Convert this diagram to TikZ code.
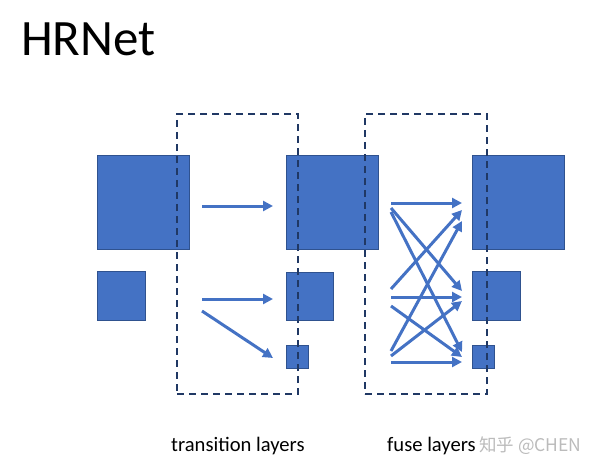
\documentclass[tikz,border=0pt]{standalone}
\usepackage{fontspec}
\setmainfont{Carlito}
\newfontfamily\cjkfont{Noto Sans CJK SC}
\usetikzlibrary{arrows.meta}
\definecolor{officeblue}{HTML}{4472C4}
\definecolor{boxedge}{HTML}{2F528F}
\definecolor{dashcol}{HTML}{203864}
\definecolor{wmark}{HTML}{BBBBBB}
\begin{document}
\begin{tikzpicture}[x=1pt,y=-1pt,
  fmap/.style={draw=boxedge, line width=0.8pt, fill=officeblue, inner sep=0pt, outer sep=0pt, anchor=north west},
  dashbox/.style={draw=dashcol, line width=1.6pt, dash pattern=on 7pt off 5pt, inner sep=0pt, outer sep=0pt, anchor=north west},
  conn/.style={draw=officeblue, line width=3pt, -{Triangle[length=10pt,width=10pt]}},
  lbl/.style={font=\fontsize{20.6}{22}\selectfont, inner sep=0pt, anchor=base west}]
\useasboundingbox (0,0) rectangle (600,468);
\node[font=\fontsize{51}{55}\selectfont, inner sep=0pt, anchor=base west] (title) at (21,56) {HRNet};
% feature maps
\node[fmap, minimum width=92pt, minimum height=94pt] (lb) at (97,155) {};
\node[fmap, minimum width=48pt, minimum height=49pt] (lm) at (97,271) {};
\node[fmap, minimum width=92pt, minimum height=94pt] (mb) at (286,155) {};
\node[fmap, minimum width=47pt, minimum height=48pt] (mm) at (286,272) {};
\node[fmap, minimum width=22pt, minimum height=23pt] (mt) at (286,345) {};
\node[fmap, minimum width=92pt, minimum height=94pt] (rb) at (472,155) {};
\node[fmap, minimum width=48pt, minimum height=49pt] (rm) at (472,271) {};
\node[fmap, minimum width=22pt, minimum height=23pt] (rt) at (472,345) {};
% dashed boxes
\node[dashbox, minimum width=121pt, minimum height=280pt] (trans) at (177,114) {};
\node[dashbox, minimum width=122pt, minimum height=280pt] (fuse) at (365,114) {};
% transition arrows
\coordinate (t1s) at (202,206); \coordinate (t1e) at (273,206);
\coordinate (t2s) at (202,299); \coordinate (t2e) at (273,299);
\coordinate (t3s) at (202,311); \coordinate (t3e) at (273,358);
\draw[conn] (t1s) -- (t1e);
\draw[conn] (t2s) -- (t2e);
\draw[conn] (t3s) -- (t3e);
% fuse arrows
\coordinate (a1) at (391,203); \coordinate (a2) at (391,208); \coordinate (a3) at (391,212);
\coordinate (b1) at (391,289); \coordinate (b2) at (391,297); \coordinate (b3) at (391,306);
\coordinate (c1) at (391,351); \coordinate (c2) at (391,356); \coordinate (c3) at (391,362);
\coordinate (A1) at (462,203); \coordinate (A2) at (462,210); \coordinate (A3) at (462,221);
\coordinate (B1) at (462,291); \coordinate (B2) at (462,297); \coordinate (B3) at (462,301);
\coordinate (C1) at (462,352); \coordinate (C2) at (462,357); \coordinate (C3) at (462,362);
\draw[conn] (a1) -- (A1);
\draw[conn] (a2) -- (B1);
\draw[conn] (a3) -- (C1);
\draw[conn] (b1) -- (A2);
\draw[conn] (b2) -- (B2);
\draw[conn] (b3) -- (C2);
\draw[conn] (c1) -- (A3);
\draw[conn] (c2) -- (B3);
\draw[conn] (c3) -- (C3);
% labels
\node[lbl] (tl) at (171,451) {transition layers};
\node[lbl] (fl) at (387,451) {fuse layers};
\node[font=\cjkfont\fontsize{17.5}{19}\selectfont, text=wmark, inner sep=0pt, anchor=base west] (wm) at (479,451) {知乎 @CHEN};
\end{tikzpicture}
\end{document}
